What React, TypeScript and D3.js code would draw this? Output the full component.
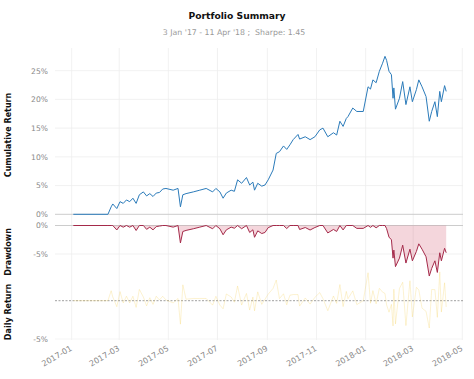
import React from "react";
import * as d3 from "d3";

const dates = [
  "2017-01-03","2017-02-15","2017-02-19","2017-02-21","2017-02-26","2017-03-02","2017-03-06","2017-03-10",
  "2017-03-14","2017-03-18","2017-03-22","2017-03-26","2017-03-31","2017-04-04","2017-04-08","2017-04-12",
  "2017-04-16","2017-04-20","2017-04-24","2017-04-28","2017-05-07","2017-05-13","2017-05-16","2017-05-19",
  "2017-05-23","2017-06-01","2017-06-09","2017-06-17","2017-06-25","2017-06-29","2017-07-04","2017-07-08",
  "2017-07-12","2017-07-18","2017-07-22","2017-07-26","2017-07-31","2017-08-06","2017-08-10","2017-08-14",
  "2017-08-16","2017-08-20","2017-08-25","2017-08-29","2017-09-02","2017-09-08","2017-09-12","2017-09-16",
  "2017-09-21","2017-09-25","2017-09-29","2017-10-03","2017-10-09","2017-10-11","2017-10-18","2017-10-24",
  "2017-10-30","2017-11-05","2017-11-09","2017-11-15","2017-11-22","2017-11-26","2017-11-30","2017-12-04",
  "2017-12-08","2017-12-10","2017-12-16","2017-12-21","2017-12-29","2018-01-04","2018-01-07","2018-01-10",
  "2018-01-14","2018-01-18","2018-01-22","2018-01-25","2018-01-27","2018-01-30","2018-02-02","2018-02-04",
  "2018-02-05","2018-02-07","2018-02-12","2018-02-16","2018-02-20","2018-02-25","2018-02-28","2018-03-05",
  "2018-03-08","2018-03-12","2018-03-17","2018-03-21","2018-03-24","2018-03-28","2018-03-31","2018-04-03",
  "2018-04-05","2018-04-09","2018-04-11"
];

const cumReturn = [
  0, 0, 1.3, 1.8, 1.0, 2.2, 1.9, 2.5,
  2.2, 2.8, 1.9, 3.4, 3.9, 3.2, 3.6, 3.1,
  3.7, 3.8, 4.4, 4.5, 4.2, 4.5, 1.3, 3.4,
  3.6, 3.9, 4.2, 4.5, 3.9, 4.5, 3.9, 2.8,
  3.7, 4.2, 4.0, 6.0, 5.4, 6.4, 5.1, 5.6,
  4.2, 5.4, 4.9, 5.1, 6.0, 7.7, 10.6, 10.9,
  11.9, 11.3, 12.1, 13.0, 13.9, 13.1, 13.5, 13.0,
  13.5, 14.7, 15.0, 13.5, 14.2, 13.8, 16.2, 15.3,
  16.7, 17.0, 18.5, 17.9, 17.9, 22.2, 21.8, 23.4,
  22.9, 24.9, 26.3, 27.5, 26.8, 24.9, 24.3, 20.2,
  22.0, 18.3, 20.2, 23.1, 19.1, 22.2, 19.6, 21.7,
  23.4, 22.2, 20.5, 16.2, 17.9, 19.6, 17.0, 21.4,
  19.6, 22.4, 21.4
];

const xTicks = ["2017-01","2017-03","2017-05","2017-07","2017-09","2017-11","2018-01","2018-03","2018-05"];
const cumTicks = [0, 5, 10, 15, 20, 25];
const ddTicks = [0, -5];
const dailyTicks = [-5];

const FONT = "DejaVu Sans, Verdana, sans-serif";

export default function App() {
  const parse = d3.timeParse("%Y-%m-%d");
  const parseM = d3.timeParse("%Y-%m");
  const pts = dates.map((d, i) => ({ date: parse(d) as Date, cum: cumReturn[i] }));

  // derived series
  let peak = 1;
  const derived = pts.map((p, i) => {
    const w = 1 + p.cum / 100;
    peak = Math.max(peak, w);
    const dd = (w / peak - 1) * 100;
    const prev = i === 0 ? w : 1 + pts[i - 1].cum / 100;
    const daily = (w / prev - 1) * 100;
    return { date: p.date, cum: p.cum, dd, daily };
  });

  const left = 55, right = 463;
  const x = d3.scaleTime()
    .domain([parseM("2017-01") as Date, parseM("2018-05") as Date])
    .range([71.7, 462.3]);
  const yC = d3.scaleLinear().domain([0, 25]).range([214.3, 70.7]);
  const yD = d3.scaleLinear().domain([0, -5]).range([225.5, 254]);
  const yR = d3.scaleLinear().domain([0, -5]).range([300.7, 339]);

  const cumLine = d3.line<any>().x(d => x(d.date)).y(d => yC(d.cum));
  const ddLine = d3.line<any>().x(d => x(d.date)).y(d => yD(d.dd));
  const ddArea = d3.area<any>().x(d => x(d.date)).y0(yD(0)).y1(d => yD(d.dd));
  const dailyLine = d3.line<any>().x(d => x(d.date)).y(d => yR(d.daily));

  const tickStyle = { fontFamily: FONT, fontSize: 7.6, fill: "#888" } as const;

  return (
    <svg width={474} height={379} style={{ position: "absolute", left: 0, top: 0, background: "#fff" }}>
      {/* title */}
      <text x={237} y={18.5} textAnchor="middle" style={{ fontFamily: FONT, fontSize: 9.2, fontWeight: "bold", fill: "#111" }}>
        Portfolio Summary
      </text>
      <text x={234} y={35} textAnchor="middle" style={{ fontFamily: FONT, fontSize: 7.8, fill: "#999", whiteSpace: "pre" }}>
        {"3 Jan '17 - 11 Apr '18 ;  Sharpe: 1.45"}
      </text>

      {/* vertical gridlines */}
      {xTicks.map(t => {
        const xv = x(parseM(t) as Date);
        return <line key={"vg" + t} x1={xv} x2={xv} y1={48} y2={340} stroke="#eeeeee" strokeWidth={0.8} />;
      })}

      {/* cumulative panel grid */}
      {cumTicks.map(t => (
        <g key={"cg" + t}>
          <line x1={left} x2={right} y1={yC(t)} y2={yC(t)} stroke={t === 0 ? "#cccccc" : "#eeeeee"} strokeWidth={t === 0 ? 1 : 0.8} />
          <text x={48} y={yC(t) + 2.8} textAnchor="end" style={tickStyle}>{t}%</text>
        </g>
      ))}

      {/* drawdown grid */}
      {ddTicks.map(t => (
        <g key={"dg" + t}>
          <line x1={left} x2={right} y1={yD(t)} y2={yD(t)} stroke={t === 0 ? "#cccccc" : "#eeeeee"} strokeWidth={t === 0 ? 1 : 0.8} />
          <text x={48} y={yD(t) + 2.8} textAnchor="end" style={tickStyle}>{t}%</text>
        </g>
      ))}

      {/* daily grid */}
      {dailyTicks.map(t => (
        <g key={"rg" + t}>
          <line x1={left} x2={right} y1={yR(t)} y2={yR(t)} stroke="#f2f2f2" strokeWidth={0.8} />
          <text x={48} y={yR(t) + 2.8} textAnchor="end" style={tickStyle}>{t}%</text>
        </g>
      ))}

      {/* cumulative line */}
      <path d={cumLine(derived) || ""} fill="none" stroke="#2b7bba" strokeWidth={1} />

      {/* drawdown */}
      <path d={ddArea(derived) || ""} fill="#c8304f" fillOpacity={0.2} stroke="none" />
      <path d={ddLine(derived) || ""} fill="none" stroke="#a52a4a" strokeWidth={1} />

      {/* daily return */}
      <line x1={left} x2={right} y1={yR(0)} y2={yR(0)} stroke="#888" strokeWidth={0.8} strokeDasharray="2,1.5" />
      <path d={dailyLine(derived) || ""} fill="none" stroke="#f6cf5a" strokeOpacity={0.4} strokeWidth={0.7} />

      {/* y labels */}
      <text transform="translate(11,135) rotate(-90)" textAnchor="middle" style={{ fontFamily: FONT, fontSize: 8, fontWeight: "bold", fill: "#111" }}>
        Cumulative Return
      </text>
      <text transform="translate(11,252) rotate(-90)" textAnchor="middle" style={{ fontFamily: FONT, fontSize: 8, fontWeight: "bold", fill: "#111" }}>
        Drawdown
      </text>
      <text transform="translate(11,312) rotate(-90)" textAnchor="middle" style={{ fontFamily: FONT, fontSize: 8, fontWeight: "bold", fill: "#111" }}>
        Daily Return
      </text>

      {/* x tick labels */}
      {xTicks.map(t => {
        const xv = x(parseM(t) as Date);
        return (
          <text key={"xt" + t} transform={`translate(${xv + 1},${350}) rotate(-30)`} textAnchor="end" style={{ ...tickStyle, fontSize: 8 }}>
            {t}
          </text>
        );
      })}
    </svg>
  );
}
